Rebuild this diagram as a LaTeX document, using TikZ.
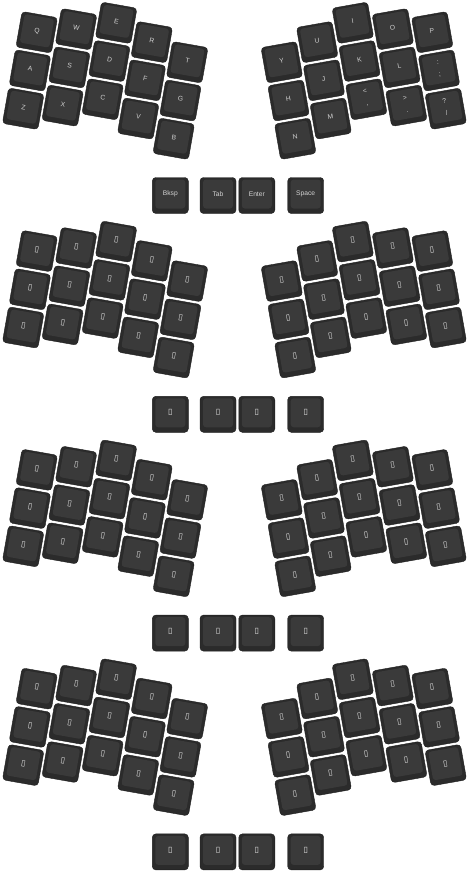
\documentclass[tikz,border=0pt]{standalone}
\usepackage{fontspec}
\setmainfont{Liberation Sans}
\newfontfamily\symf{DejaVu Sans}
\definecolor{keyrim}{HTML}{2B2B2B}
\definecolor{keyface}{HTML}{3A3A3A}
\definecolor{keylbl}{HTML}{D2D2D2}
\newcommand\tofu{{\symf\fontsize{8}{8}\selectfont\color{white!92!black}▯}}
\tikzset{
  keyout/.style={draw=keyrim!70!black, line width=0.4pt, fill=keyrim, rounded corners=3.5,
    minimum width=36, minimum height=36, inner sep=0},
  keyin/.style={fill=keyface, rounded corners=3, minimum width=30, minimum height=29,
    inner sep=0, text=keylbl, font=\fontsize{6.7}{8}\selectfont, align=center},
}
% name, x, y, label
\newcommand\kc[4]{\node[keyout] (#1) at (#2,#3) {};
  \node[keyin] (#1f) at (#2,#3+1.5) {#4};}
\newcommand\two[2]{#1\\[4.5pt]#2}
\begin{document}
\begin{tikzpicture}[x=1pt,y=1pt]
\useasboundingbox (0,0) rectangle (474,-876);
% ---------------- layer 1 ----------------
\begin{scope}[shift={(36.7,-32.3)}, rotate=-10, transform shape]
  \kc{kQ}{0}{0}{Q}         \kc{kA}{0}{-38.8}{A}        \kc{kZ}{0}{-77.6}{Z}
  \kc{kW}{38.3}{9.9}{W}    \kc{kS}{38.3}{-28.9}{S}     \kc{kX}{38.3}{-67.7}{X}
  \kc{kE}{76.6}{23.1}{E}   \kc{kD}{76.6}{-15.7}{D}     \kc{kC}{76.6}{-54.5}{C}
  \kc{kR}{115}{10.3}{R}    \kc{kF}{115}{-28.5}{F}      \kc{kV}{115}{-67.3}{V}
  \kc{kT}{153.4}{-3.4}{T}  \kc{kG}{153.4}{-42.2}{G}    \kc{kB}{153.4}{-81}{B}
\end{scope}
\begin{scope}[shift={(432.3,-32.3)}, rotate=10, transform shape]
  \kc{kP}{0}{0}{P}         \kc{kSc}{0}{-38.8}{\two{:}{;}}   \kc{kSl}{0}{-77.6}{\two{?}{/}}
  \kc{kO}{-38.3}{9.9}{O}   \kc{kL}{-38.3}{-28.9}{L}         \kc{kDt}{-38.3}{-67.7}{\two{>}{.}}
  \kc{kI}{-76.6}{23.1}{I}  \kc{kK}{-76.6}{-15.7}{K}         \kc{kCm}{-76.6}{-54.5}{\two{<}{,}}
  \kc{kU}{-115}{10.3}{U}   \kc{kJ}{-115}{-28.5}{J}          \kc{kM}{-115}{-67.3}{M}
  \kc{kY}{-153.4}{-3.4}{Y} \kc{kH}{-153.4}{-42.2}{H}        \kc{kN}{-153.4}{-81}{N}
\end{scope}
\kc{kBk}{170.3}{-195.5}{Bksp}
\kc{kTb}{218}{-195.5}{Tab}
\kc{kEn}{256.8}{-195.5}{Enter}
\kc{kSp}{305.7}{-195.5}{Space}
% ---------------- layers 2-4 ----------------
\foreach \L [count=\n from 2] in {218.8,437.6,656.4}{
  \begin{scope}[shift={(36.7,-32.3-\L)}, rotate=-10, transform shape]
    \foreach \u/\o [count=\c] in {0/0,38.3/9.9,76.6/23.1,115/10.3,153.4/-3.4}{
      \foreach \r in {0,1,2}{
        \kc{l\n c\c r\r}{\u}{\o-\r*38.8}{\tofu}
      }
    }
  \end{scope}
  \begin{scope}[shift={(432.3,-32.3-\L)}, rotate=10, transform shape]
    \foreach \u/\o [count=\c] in {0/0,38.3/9.9,76.6/23.1,115/10.3,153.4/-3.4}{
      \foreach \r in {0,1,2}{
        \kc{r\n c\c r\r}{-\u}{\o-\r*38.8}{\tofu}
      }
    }
  \end{scope}
  \foreach \x [count=\t] in {170.3,218,256.8,305.7}{
    \kc{t\n k\t}{\x}{-195.5-\L}{\tofu}
  }
}
\end{tikzpicture}
\end{document}
